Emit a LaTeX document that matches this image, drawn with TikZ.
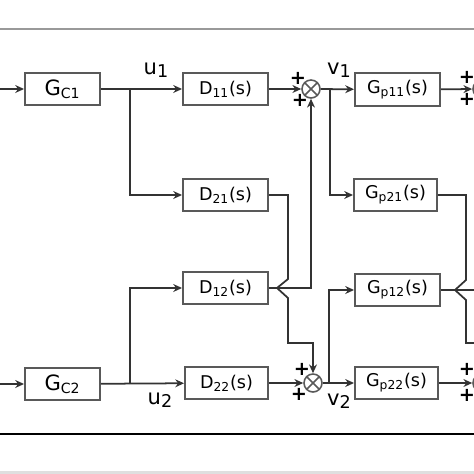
\documentclass[tikz,border=0pt]{standalone}
\usepackage{fontspec}
\setmainfont{DejaVu Sans}
\usepackage{tikz}
\usetikzlibrary{positioning}
\usetikzlibrary{calc}
\usetikzlibrary{arrows, shapes, arrows.meta}
\tikzstyle{block} = [rectangle, draw=black!65, line width=1.1pt, minimum width=1.7cm, minimum height=0.65cm, inner sep=0pt, font=\fontsize{10}{12}\selectfont]
\tikzstyle{sumnode} = [circle, draw=black!65, line width=0.9pt, minimum size=0.36cm, inner sep=0pt, path picture={\draw[black!65, line width=0.9pt] (path picture bounding box.north west)--(path picture bounding box.south east) (path picture bounding box.south west)--(path picture bounding box.north east);}]
\tikzstyle{line} = [line width=1pt, draw=black!80]
\tikzstyle{arrow} = [line width=1pt, draw=black!80, -{Stealth[length=5pt,width=4.5pt]}]
\tikzstyle{plus} = [inner sep=0pt, font=\bfseries\fontsize{11}{11}\selectfont]
\tikzstyle{sig} = [inner sep=0pt, font=\fontsize{12}{12}\selectfont]

\begin{document}
\begin{tikzpicture}[x=0.02cm, y=-0.02cm]
\clip (0,0) rectangle (474,474);
% frame
\draw[gray!80, line width=1.2pt] (0,29)--(474,29);
\draw[black, line width=0.8pt] (0,434)--(474,434);
\fill[gray!25] (0,471) rectangle (474,474);
% controllers and decouplers
\node[block, minimum width=1.5cm, font=\fontsize{12}{14}\selectfont] (gc1) at (62.5,89) {G\textsubscript{C1}};
\node[block, minimum width=1.5cm, font=\fontsize{12}{14}\selectfont] (gc2) at (62.5,384) {G\textsubscript{C2}};
\node[block] (d11) at (225.5,89) {D\textsubscript{11}(s)};
\node[block] (d21) at (225.5,195) {D\textsubscript{21}(s)};
\node[block] (d12) at (225.5,288) {D\textsubscript{12}(s)};
\node[block, minimum width=1.66cm] (d22) at (226.5,383) {D\textsubscript{22}(s)};
% summing points
\node[sumnode] (s1) at (311,89) {};
\node[sumnode] (s2) at (313,383) {};
\node[sumnode] (r1) at (482,89) {};
\node[sumnode] (r2) at (482,383) {};
% plant
\node[block] (gp11) at (397.5,89.5) {G\textsubscript{p11}(s)};
\node[block, minimum width=1.66cm] (gp21) at (395.5,195) {G\textsubscript{p21}(s)};
\node[block] (gp12) at (397.5,290) {G\textsubscript{p12}(s)};
\node[block, minimum width=1.66cm] (gp22) at (396.5,383) {G\textsubscript{p22}(s)};
% labels
\node[sig] (u1) at (156,70) {u\raisebox{-1.5pt}{\fontsize{10}{10}\selectfont 1}};
\node[sig] (u2) at (160,400) {u\raisebox{-1.5pt}{\fontsize{10}{10}\selectfont 2}};
\node[sig] (v1) at (339,70) {v\raisebox{-1.5pt}{\fontsize{10}{10}\selectfont 1}};
\node[sig] (v2) at (339,401) {v\raisebox{-1.5pt}{\fontsize{10}{10}\selectfont 2}};
\node[plus] (p1a) at (298,78) {+};
\node[plus] (p1b) at (300,100) {+};
\node[plus] (p2a) at (302,369) {+};
\node[plus] (p2b) at (299,394) {+};
\node[plus] (p3a) at (467,77) {+};
\node[plus] (p3b) at (467,99) {+};
\node[plus] (p4a) at (467,369) {+};
\node[plus] (p4b) at (467,395) {+};
% branch points and hops
\coordinate (in1) at (0,89);
\coordinate (in2) at (0,384);
\coordinate (b1) at (130,89);
\coordinate (b2) at (130,384);
\coordinate (b3) at (330,89);
\coordinate (b4) at (329,383);
\coordinate (hop1) at (288,288);
\coordinate (hop2) at (466,290);
\coordinate (out1) at (480,290);
\coordinate (out2) at (480,343);
% signals
\draw[arrow] (in1) -- (gc1);
\draw[arrow] (in2) -- (gc2);
\draw[arrow] (gc1) -- (d11);
\draw[arrow] (b1) |- (d21);
\draw[arrow] (gc2) -- (d22);
\draw[arrow] (b2) |- (d12);
\draw[arrow] (d11) -- (s1);
\draw[arrow] (d22) -- (s2);
\draw[arrow] (d12) -| (s1);
\draw[arrow] (d21) -| ($(hop1)+(0,-9)$) -- ($(hop1)+(-11,0)$) -- ($(hop1)+(0,10)$) |- ($(s2)+(0,-40)$) -- (s2);
\draw[arrow] (s1) -- (gp11);
\draw[arrow] (b3) |- (gp21);
\draw[arrow] (s2) -- (gp22);
\draw[arrow] (b4) |- (gp12);
\draw[arrow] (gp11) -- (r1);
\draw[arrow] (gp22) -- (r2);
\draw[line] (gp12) -- (out1);
\draw[line] (gp21) -| ($(hop2)+(0,-10)$) -- ($(hop2)+(-11,0)$) -- ($(hop2)+(0,10)$) |- (out2);
\end{tikzpicture}
\end{document}
